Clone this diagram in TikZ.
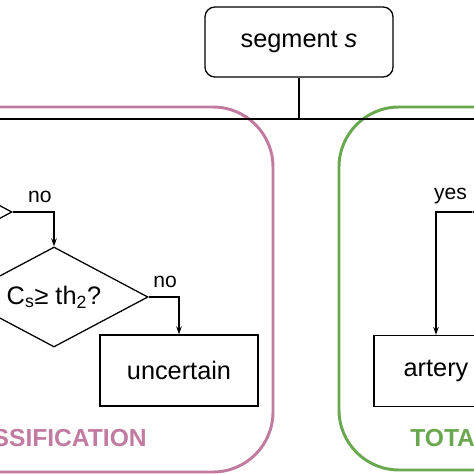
\documentclass[tikz,border=0pt]{standalone}
\usepackage{fontspec}
\setmainfont{Liberation Sans}
\usetikzlibrary{shapes.geometric,arrows.meta}
\definecolor{classpink}{HTML}{C27BA0}
\definecolor{totalgreen}{HTML}{6AA84F}

\begin{document}
\begin{tikzpicture}[x=0.025cm,y=-0.025cm,
  box/.style={draw,line width=0.9pt,minimum width=3.95cm,minimum height=1.775cm,font=\fontsize{18}{20}\selectfont},
  decision/.style={draw,diamond,shape aspect=1.88,line width=0.9pt,minimum width=4.7cm,minimum height=2.5cm,inner sep=0pt,font=\fontsize{18}{20}\selectfont},
  link/.style={line width=0.9pt,-{Stealth[length=0.2cm,width=0.14cm]}},
  bus/.style={line width=0.9pt},
  tag/.style={font=\fontsize{15}{17}\selectfont,inner sep=3pt},
  group/.style={line width=2.1pt,rounded corners=1.5cm},
  grouptitle/.style={font=\fontsize{17.5}{20}\selectfont\bfseries,inner sep=0pt}]
\useasboundingbox (0,0) rectangle (474,474);
\clip (0,0) rectangle (474,474);

\draw[group,classpink] (-300,107) rectangle (273,472);
\draw[group,totalgreen] (339,107) rectangle (900,470);
\node[grouptitle,classpink,anchor=east] (classtitle) at (147,438) {CLASSIFICATION};
\node[grouptitle,totalgreen,anchor=west] (totaltitle) at (410,438) {TOTAL};

\node[box,rounded corners=0.25cm,minimum width=4.7cm,minimum height=1.75cm] (seg) at (299,42) {segment \textit{s}};
\coordinate (busmid) at (299,119);
\coordinate (busL) at (0,119);
\coordinate (busR) at (474,119);
\draw[bus] (seg.south) -- (busmid);
\draw[bus] (busL) -- (busR);

\node[decision] (dA) at (-82,212) {};
\node[decision] (dB) at (54,297) {C\textsubscript{s}≥ th\textsubscript{2}?};
\node[box] (unc) at (179,370.5) {uncertain};
\draw[link] (dA.east) -| node[tag,above=3.5pt,pos=0.33]{no} (dB.north);
\draw[link] (dB.east) -| node[tag,above=3.5pt,pos=0.27]{no} (unc.north);

\node[decision] (dC) at (567,212) {};
\node[box,minimum width=3.1cm] (art) at (436,371) {artery};
\draw[link] (dC.west) -| node[tag,above=2pt,pos=0.3]{yes} (art.north);
\end{tikzpicture}
\end{document}
